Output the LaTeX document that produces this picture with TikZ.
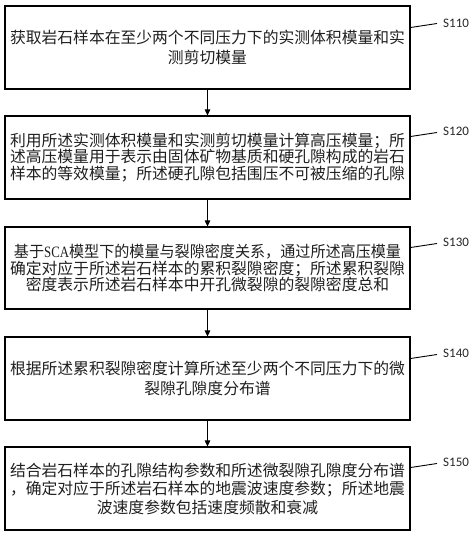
\documentclass[tikz,border=0pt]{standalone}
\usepackage{fontspec}
\newfontfamily\cjk{Noto Sans CJK SC}
\newfontfamily\lblfont{Carlito}
\newfontfamily\latinserif{Liberation Serif}
\usetikzlibrary{arrows.meta}
\begin{document}
\begin{tikzpicture}[x=1pt,y=-1pt,
  stepbox/.style={draw=black,line width=1.1pt,minimum width=405pt,inner sep=0pt,align=center,text=black!88},
  lbl/.style={anchor=west,inner sep=0pt,font=\lblfont\fontsize{13}{15}\selectfont,text=black!85},
  lead/.style={draw=black,line width=0.9pt},
  arr/.style={draw=black,line width=0.9pt,-{Triangle[length=6pt,width=5.5pt]}}]
\useasboundingbox (0,0) rectangle (474,536);
\node[stepbox,minimum height=83pt,font=\cjk\fontsize{15.8}{19.5}\selectfont] (b1) at (207.5,47.5)
  {获取岩石样本在至少两个不同压力下的实测体积模量和实\\测剪切模量};
\node[stepbox,minimum height=83pt,font=\cjk\fontsize{15.8}{16.5}\selectfont] (b2) at (207.5,157.5)
  {利用所述实测体积模量和实测剪切模量计算高压模量；所\\述高压模量用于表示由固体矿物基质和硬孔隙构成的岩石\\样本的等效模量；所述硬孔隙包括围压不可被压缩的孔隙};
\node[stepbox,minimum height=82pt,font=\cjk\fontsize{15.8}{16.5}\selectfont] (b3) at (207.5,268)
  {\scalebox{0.955}[1]{基于\scalebox{0.85}[1]{\latinserif SCA}模型下的模量与裂隙密度关系，通过所述高压模量}\\确定对应于所述岩石样本的累积裂隙密度；所述累积裂隙\\密度表示所述岩石样本中开孔微裂隙的裂隙密度总和};
\node[stepbox,minimum height=83pt,font=\cjk\fontsize{15.8}{20.5}\selectfont] (b4) at (207.5,378.5)
  {根据所述累积裂隙密度计算所述至少两个不同压力下的微\\裂隙孔隙度分布谱};
\node[stepbox,minimum height=83pt,font=\cjk\fontsize{15.8}{18.5}\selectfont] (b5) at (207.5,488.5)
  {结合岩石样本的孔隙结构参数和所述微裂隙孔隙度分布谱\\，确定对应于所述岩石样本的地震波速度参数；所述地震\\波速度参数包括速度频散和衰减};
\draw[arr] (b1.south) -- (b2.north);
\draw[arr] (b2.south) -- (b3.north);
\draw[arr] (b3.south) -- (b4.north);
\draw[arr] (b4.south) -- (b5.north);
\node[lbl] (l1) at (443,23) {S110};
\node[lbl] (l2) at (443,131) {S120};
\node[lbl] (l3) at (443,242) {S130};
\node[lbl] (l4) at (443,353) {S140};
\node[lbl] (l5) at (443,462) {S150};
\coordinate (e1) at (437,23.5);
\coordinate (e2) at (437,132.5);
\coordinate (e3) at (437,243.5);
\coordinate (e4) at (437,354.5);
\coordinate (e5) at (437,463.5);
\draw[lead] (b1.east |- 0,27.5) -- (e1);
\draw[lead] (b2.east |- 0,136.5) -- (e2);
\draw[lead] (b3.east |- 0,247.5) -- (e3);
\draw[lead] (b4.east |- 0,358.5) -- (e4);
\draw[lead] (b5.east |- 0,467.5) -- (e5);
\end{tikzpicture}
\end{document}
